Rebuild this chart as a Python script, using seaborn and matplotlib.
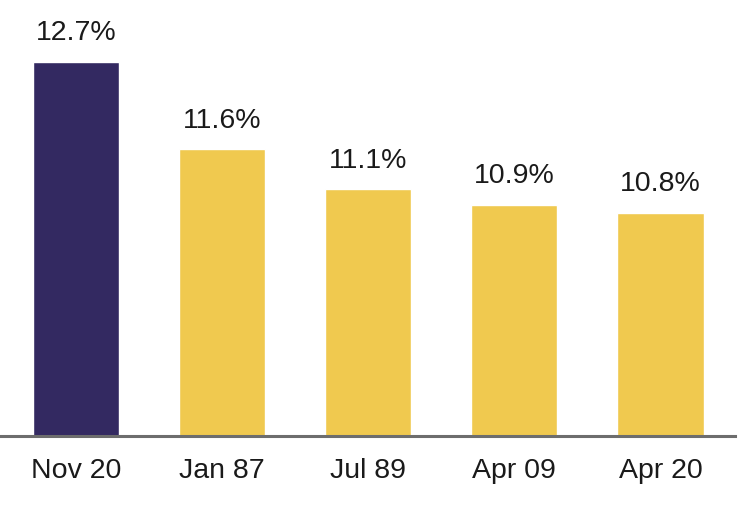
import matplotlib
matplotlib.use("Agg")
import matplotlib.pyplot as plt
import seaborn as sns
import pandas as pd

categories = ["Nov 20", "Jan 87", "Jul 89", "Apr 09", "Apr 20"]
values = [12.7, 11.6, 11.1, 10.9, 10.8]
labels = ["12.7%", "11.6%", "11.1%", "10.9%", "10.8%"]
colors = ["#332961", "#f0c94f", "#f0c94f", "#f0c94f", "#f0c94f"]

sns.set_theme(style="white")
plt.rcParams["font.family"] = ["Liberation Sans", "DejaVu Sans"]

df = pd.DataFrame({"period": categories, "rate": values})

fig = plt.figure(figsize=(7.5, 5.1), dpi=100)
ax = fig.add_axes([0.0, 1 - 437 / 510, 735 / 750, 437 / 510])
sns.barplot(data=df, x="period", y="rate", hue="period", palette=colors,
            legend=False, width=0.59, ax=ax, saturation=1)

for container, lab in zip(ax.containers, labels):
    ax.bar_label(container, labels=[lab], padding=12, fontsize=20.5, color="#1a1a1a")

ax.set_ylim(8, 13.49)
ax.set_xlim(-0.52, 4.51)
ax.set_xlabel("")
ax.set_ylabel("")
ax.set_yticks([])
for s in ["top", "right", "left"]:
    ax.spines[s].set_visible(False)
ax.spines["bottom"].set_color("#6d6d6d")
ax.spines["bottom"].set_linewidth(2.2)
ax.tick_params(axis="x", length=0, pad=15, labelsize=20.5, labelcolor="#1a1a1a")

fig.savefig("out.png", dpi=100)
